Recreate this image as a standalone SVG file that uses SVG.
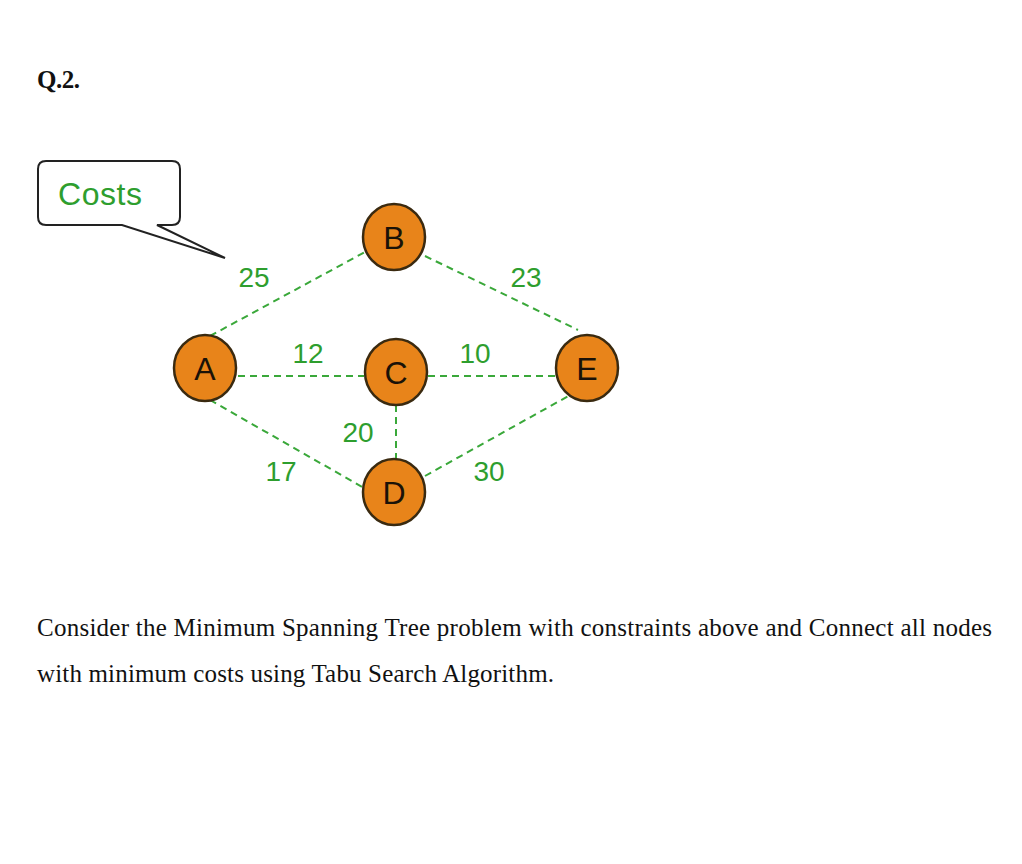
<svg xmlns="http://www.w3.org/2000/svg" width="1022" height="864" viewBox="0 0 1022 864">
<style>
.e{stroke:#3aa83a;stroke-width:2;stroke-dasharray:7,5;fill:none}
.n{fill:#e8841a;stroke:#3a2a10;stroke-width:2.5}
.nl{font-family:"Liberation Sans",Arial,sans-serif;font-size:32px;fill:#1a1208;text-anchor:middle}
.w{font-family:"Liberation Sans",Arial,sans-serif;font-size:28px;fill:#2e9e2e;text-anchor:middle}
.t{font-family:"Liberation Serif","Times New Roman",serif;font-size:25px;fill:#111}
</style>
<rect width="1022" height="864" fill="#fff"/>
<text class="t" x="37" y="88" font-weight="bold" font-size="23" textLength="43">Q.2.</text>
<g id="callout">
<path d="M46,161 H172 Q180,161 180,169 V217 Q180,225 172,225 H157 L225,258 L122,225 H46 Q38,225 38,217 V169 Q38,161 46,161 Z" fill="#fff" stroke="#222" stroke-width="2"/>
<text x="100" y="205" font-family="Liberation Sans,Arial,sans-serif" font-size="32" fill="#2e9e2e" text-anchor="middle" textLength="84">Costs</text>
</g>
<g id="connectors">
<line class="e" x1="210" y1="336" x2="365" y2="252"/>
<line class="e" x1="425" y1="256" x2="578" y2="330"/>
<line class="e" x1="238" y1="376" x2="364" y2="376"/>
<line class="e" x1="428" y1="376" x2="555" y2="376"/>
<line class="e" x1="210" y1="400" x2="364" y2="488"/>
<line class="e" x1="396" y1="405" x2="396" y2="462"/>
<line class="e" x1="425" y1="476" x2="572" y2="394"/>
<text class="w" x="254" y="287">25</text>
<text class="w" x="526" y="287">23</text>
<text class="w" x="308" y="363">12</text>
<text class="w" x="475" y="363">10</text>
<text class="w" x="358" y="442">20</text>
<text class="w" x="281" y="481">17</text>
<text class="w" x="489" y="481">30</text>
</g>
<g id="A"><ellipse class="n" cx="205" cy="368" rx="31" ry="33"/><text class="nl" x="205" y="380">A</text></g>
<g id="B"><ellipse class="n" cx="394" cy="237" rx="31" ry="33"/><text class="nl" x="394" y="249">B</text></g>
<g id="C"><ellipse class="n" cx="396" cy="372" rx="31" ry="33"/><text class="nl" x="396" y="384">C</text></g>
<g id="D"><ellipse class="n" cx="394" cy="492" rx="31" ry="33"/><text class="nl" x="394" y="504">D</text></g>
<g id="E"><ellipse class="n" cx="587" cy="368" rx="31" ry="33"/><text class="nl" x="587" y="380">E</text></g>
<text class="t" x="37" y="636" textLength="955">Consider the Minimum Spanning Tree problem with constraints above and Connect all nodes</text>
<text class="t" x="37" y="682" textLength="517">with minimum costs using Tabu Search Algorithm.</text>
</svg>
